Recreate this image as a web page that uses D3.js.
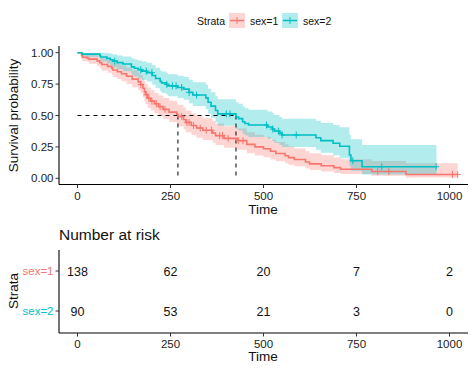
<!DOCTYPE html>
<html>
<head>
<meta charset="utf-8">
<script src="https://cdn.jsdelivr.net/npm/d3@7"></script>
<style>
  body { margin: 0; background: #fff; }
  text { font-family: "Liberation Sans", Arial, sans-serif; }
</style>
</head>
<body>
<div id="viz"></div>
<script>
// strata
var strata = ["sex=1", "sex=2"];
var colors = ["#F8766D", "#00BFC4"];

// sex=1 steps
var time1 = [0, 11, 13, 26, 31, 53, 60, 65, 81, 92, 95, 107, 118, 132, 147, 163, 170, 176, 180, 183, 189, 197, 207, 218, 230, 246, 267, 270, 285, 291, 306, 320, 337, 363, 371, 394, 429, 455, 477, 500, 519, 533, 558, 567, 583, 613, 624, 655, 689, 707, 791, 883, 1022];
var surv1 = [1, 0.978, 0.964, 0.957, 0.949, 0.935, 0.920, 0.906, 0.891, 0.877, 0.862, 0.848, 0.833, 0.812, 0.790, 0.768, 0.746, 0.717, 0.688, 0.666, 0.637, 0.615, 0.593, 0.571, 0.549, 0.527, 0.510, 0.493, 0.468, 0.445, 0.420, 0.400, 0.382, 0.360, 0.340, 0.318, 0.300, 0.270, 0.250, 0.235, 0.215, 0.198, 0.180, 0.165, 0.150, 0.130, 0.115, 0.100, 0.085, 0.072, 0.054, 0.030, 0.030];
var lower1 = [1, 0.954, 0.933, 0.923, 0.913, 0.895, 0.876, 0.858, 0.840, 0.823, 0.806, 0.790, 0.773, 0.749, 0.725, 0.701, 0.677, 0.646, 0.615, 0.592, 0.562, 0.540, 0.517, 0.494, 0.472, 0.449, 0.432, 0.415, 0.390, 0.367, 0.343, 0.323, 0.305, 0.284, 0.265, 0.244, 0.227, 0.199, 0.181, 0.167, 0.150, 0.135, 0.120, 0.107, 0.095, 0.078, 0.066, 0.054, 0.043, 0.034, 0.021, 0.006, 0.006];
var upper1 = [1, 1, 0.995, 0.991, 0.986, 0.976, 0.966, 0.956, 0.945, 0.934, 0.922, 0.910, 0.898, 0.880, 0.861, 0.841, 0.822, 0.796, 0.770, 0.749, 0.722, 0.701, 0.680, 0.660, 0.639, 0.618, 0.602, 0.585, 0.561, 0.539, 0.515, 0.495, 0.478, 0.457, 0.437, 0.415, 0.397, 0.367, 0.346, 0.330, 0.309, 0.290, 0.271, 0.254, 0.238, 0.216, 0.200, 0.183, 0.166, 0.152, 0.137, 0.120, 0.120];
var censor1 = [170, 185, 192, 200, 212, 222, 235, 280, 294, 300, 312, 330, 346, 360, 382, 390, 405, 432, 445, 807, 837, 1008, 1022];

// sex=2 steps
var time2 = [0, 12, 60, 62, 79, 88, 95, 107, 122, 145, 153, 163, 173, 186, 201, 210, 222, 226, 239, 243, 269, 285, 300, 310, 345, 351, 359, 371, 377, 426, 433, 444, 450, 460, 511, 524, 529, 543, 550, 641, 654, 687, 705, 731, 735, 765, 965];
var surv2 = [1, 0.989, 0.978, 0.966, 0.955, 0.944, 0.933, 0.921, 0.910, 0.887, 0.876, 0.865, 0.853, 0.841, 0.818, 0.795, 0.772, 0.760, 0.748, 0.736, 0.723, 0.710, 0.684, 0.663, 0.640, 0.605, 0.575, 0.540, 0.513, 0.488, 0.475, 0.450, 0.436, 0.424, 0.408, 0.392, 0.376, 0.360, 0.345, 0.323, 0.300, 0.279, 0.255, 0.185, 0.140, 0.092, 0.092];
var lower2 = [1, 0.967, 0.949, 0.930, 0.914, 0.898, 0.883, 0.868, 0.853, 0.824, 0.811, 0.797, 0.784, 0.770, 0.744, 0.718, 0.693, 0.680, 0.667, 0.654, 0.640, 0.626, 0.597, 0.575, 0.550, 0.514, 0.482, 0.446, 0.419, 0.393, 0.380, 0.355, 0.341, 0.329, 0.313, 0.297, 0.281, 0.265, 0.250, 0.227, 0.204, 0.183, 0.160, 0.100, 0.060, 0.030, 0.030];
var upper2 = [1, 1, 1, 1, 0.998, 0.992, 0.986, 0.978, 0.970, 0.954, 0.946, 0.938, 0.929, 0.919, 0.900, 0.880, 0.860, 0.850, 0.840, 0.829, 0.817, 0.806, 0.784, 0.765, 0.744, 0.713, 0.685, 0.654, 0.629, 0.606, 0.594, 0.571, 0.557, 0.546, 0.532, 0.517, 0.503, 0.488, 0.474, 0.458, 0.440, 0.424, 0.406, 0.344, 0.310, 0.265, 0.265];
var censor2 = [100, 170, 185, 200, 240, 255, 265, 280, 300, 320, 400, 410, 508, 525, 540, 550, 588, 740, 818, 964];

// medians
var medians = [270, 426];

// risk table
var riskTimes = [0, 250, 500, 750, 1000];
var risk1 = [138, 62, 20, 7, 2];
var risk2 = [90, 53, 21, 3, 0];

var xTicks = [0, 250, 500, 750, 1000];
var yTicks = [0, 0.25, 0.5, 0.75, 1];

var W = 474, H = 371;
var svg = d3.select('#viz').append('svg')
    .attr('width', W)
    .attr('height', H);

var x = d3.scaleLinear().domain([0, 1000]).range([77.5, 449.5]);
var y = d3.scaleLinear().domain([0, 1]).range([178.3, 52.7]);
var axL = 59, axR = 468, axB = 184.5, axT = 46;

function stepData(t, s, lo, up) {
    return t.map(function (d, i) { return { t: d, s: s[i], lo: lo[i], up: up[i] }; });
}
var curves = [
    stepData(time1, surv1, lower1, upper1),
    stepData(time2, surv2, lower2, upper2)
];
var censors = [censor1, censor2];

function survAt(c, t) {
    var v = c[0].s;
    for (var i = 0; i < c.length; i++) { if (c[i].t <= t) v = c[i].s; }
    return v;
}

var area = d3.area().curve(d3.curveStepAfter)
    .x(function (d) { return x(d.t); })
    .y0(function (d) { return y(d.lo); })
    .y1(function (d) { return y(d.up); });
var line = d3.line().curve(d3.curveStepAfter)
    .x(function (d) { return x(d.t); })
    .y(function (d) { return y(d.s); });

var plot = svg.append('g');

curves.forEach(function (c, i) {
    plot.append('path').attr('d', area(c))
        .attr('fill', colors[i]).attr('fill-opacity', 0.3);
});

// median lines
var mx = d3.max(medians);
plot.append('line')
    .attr('x1', x(0)).attr('x2', x(mx))
    .attr('y1', y(0.5)).attr('y2', y(0.5))
    .attr('stroke', '#000').attr('stroke-width', 1).attr('stroke-dasharray', '4,4');
medians.forEach(function (m) {
    plot.append('line')
        .attr('x1', x(m)).attr('x2', x(m))
        .attr('y1', y(0.5)).attr('y2', y(0))
        .attr('stroke', '#000').attr('stroke-width', 1).attr('stroke-dasharray', '4,4');
});

curves.forEach(function (c, i) {
    plot.append('path').attr('d', line(c))
        .attr('fill', 'none').attr('stroke', colors[i]).attr('stroke-width', 1.6);
    censors[i].forEach(function (t) {
        var cx = x(t), cy = y(survAt(c, t));
        plot.append('path')
            .attr('d', 'M' + (cx - 3) + ',' + cy + 'H' + (cx + 3) + 'M' + cx + ',' + (cy - 3.5) + 'V' + (cy + 3.5))
            .attr('stroke', colors[i]).attr('stroke-width', 1);
    });
});

// axes of the survival plot
var gx = svg.append('g');
gx.append('line').attr('x1', axL).attr('x2', axR).attr('y1', axB).attr('y2', axB)
    .attr('stroke', '#000').attr('stroke-width', 1.1);
xTicks.forEach(function (t) {
    gx.append('line').attr('x1', x(t)).attr('x2', x(t)).attr('y1', axB).attr('y2', axB + 3.5)
        .attr('stroke', '#333');
    gx.append('text').attr('x', x(t)).attr('y', axB + 15)
        .attr('text-anchor', 'middle').attr('font-size', 11.5).attr('fill', '#222').text(t);
});
svg.append('text').attr('x', 263).attr('y', 214).attr('text-anchor', 'middle')
    .attr('font-size', 13.5).attr('fill', '#111').text('Time');

var gy = svg.append('g');
gy.append('line').attr('x1', axL).attr('x2', axL).attr('y1', axT).attr('y2', axB)
    .attr('stroke', '#000').attr('stroke-width', 1.1);
yTicks.forEach(function (t) {
    gy.append('line').attr('x1', axL - 3.5).attr('x2', axL).attr('y1', y(t)).attr('y2', y(t))
        .attr('stroke', '#333');
    gy.append('text').attr('x', axL - 5.5).attr('y', y(t) + 4)
        .attr('text-anchor', 'end').attr('font-size', 11.5).attr('fill', '#222').text(d3.format('.2f')(t));
});
svg.append('text').attr('transform', 'translate(18,115.5) rotate(-90)')
    .attr('text-anchor', 'middle').attr('font-size', 13.5).attr('fill', '#111').text('Survival probability');

// legend
var lg = svg.append('g').attr('font-size', 10.5);
lg.append('text').attr('x', 197).attr('y', 24.5).attr('fill', '#111').text('Strata');
var keyX = [229, 282];
strata.forEach(function (s, i) {
    lg.append('rect').attr('x', keyX[i]).attr('y', 13).attr('width', 16).attr('height', 15)
        .attr('fill', colors[i]).attr('fill-opacity', 0.3);
    lg.append('line').attr('x1', keyX[i] + 1).attr('x2', keyX[i] + 15).attr('y1', 20.5).attr('y2', 20.5)
        .attr('stroke', colors[i]).attr('stroke-width', 1.5);
    lg.append('line').attr('x1', keyX[i] + 8).attr('x2', keyX[i] + 8).attr('y1', 17).attr('y2', 24)
        .attr('stroke', colors[i]).attr('stroke-width', 1);
    lg.append('text').attr('x', keyX[i] + 21).attr('y', 24.5).attr('fill', '#111').text(s);
});

// risk table
svg.append('text').attr('x', 59).attr('y', 240).attr('font-size', 15.5).attr('fill', '#111').text('Number at risk');
var tT = 250, tB = 333;
var ry = d3.scalePoint().domain(strata).range([271, 311]);
var rt = svg.append('g');
rt.append('line').attr('x1', axL).attr('x2', axL).attr('y1', tT).attr('y2', tB)
    .attr('stroke', '#000').attr('stroke-width', 1.1);
rt.append('line').attr('x1', axL).attr('x2', axR).attr('y1', tB).attr('y2', tB)
    .attr('stroke', '#000').attr('stroke-width', 1.1);
var risks = [risk1, risk2];
strata.forEach(function (s, i) {
    rt.append('line').attr('x1', axL - 3.5).attr('x2', axL).attr('y1', ry(s)).attr('y2', ry(s))
        .attr('stroke', '#333');
    rt.append('text').attr('x', axL - 5.5).attr('y', ry(s) + 4)
        .attr('text-anchor', 'end').attr('font-size', 11.5).attr('fill', colors[i]).text(s);
    riskTimes.forEach(function (t, j) {
        rt.append('text').attr('x', x(t)).attr('y', ry(s) + 5)
            .attr('text-anchor', 'middle').attr('font-size', 12.5).attr('fill', '#111').text(risks[i][j]);
    });
});
xTicks.forEach(function (t) {
    rt.append('line').attr('x1', x(t)).attr('x2', x(t)).attr('y1', tB).attr('y2', tB + 3.5)
        .attr('stroke', '#333');
    rt.append('text').attr('x', x(t)).attr('y', tB + 15)
        .attr('text-anchor', 'middle').attr('font-size', 11.5).attr('fill', '#222').text(t);
});
svg.append('text').attr('x', 263).attr('y', 361).attr('text-anchor', 'middle')
    .attr('font-size', 13.5).attr('fill', '#111').text('Time');
svg.append('text').attr('transform', 'translate(18,291) rotate(-90)')
    .attr('text-anchor', 'middle').attr('font-size', 13.5).attr('fill', '#111').text('Strata');
</script>
</body>
</html>
